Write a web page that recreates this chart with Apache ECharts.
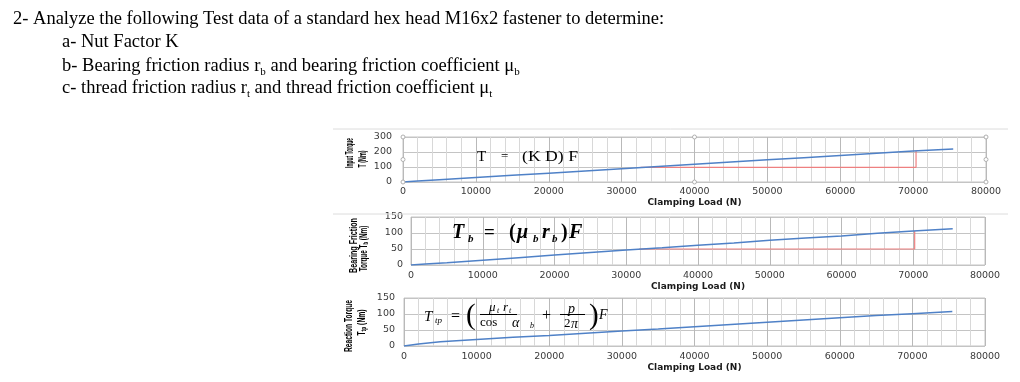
<!DOCTYPE html>
<html><head><meta charset="utf-8">
<script src="https://cdn.jsdelivr.net/npm/echarts@6/dist/echarts.min.js"></script>
<style>html,body{margin:0;padding:0;background:#fff}#c{width:1020px;height:382px}</style>
</head><body><div id="c"></div>
<script>
// ---- data ----
const loads = [0,2000,5000,10000,15000,20000,25000,30000,35000,40000,45000,50000,55000,60000,65000,70000,75500];
const inputTorque   = [0,6,15,30,45,59,74,89,104,119,133,148,162,177,191,206,220];
const bearingTorque = [0,3,7,15,23,31,39,47,54,62,69,77,84,91,99,106,113];
const reactionTorque= [0,6,13,20,27,33,40,47,53,60,67,74,81,88,95,101,108];
const redInput   = [[32600,98],[70400,98],[70400,206]];
const redBearing = [[31800,50],[70200,50],[70200,106]];
const xTicks = {min:0, max:80000, interval:10000};
const yTicks1 = {min:0, max:300, interval:100};
const yTicks2 = {min:0, max:150, interval:50};
const yTicks3 = {min:0, max:150, interval:50};
const xName = 'Clamping Load (N)';

const pair = (xs, ys) => xs.map((x,i)=>[x, ys[i]]);

const chart = echarts.init(document.getElementById('c'), null, {renderer:'canvas'});
const mctx = document.createElement('canvas').getContext('2d');
function measure(text, font){ mctx.font = font; return mctx.measureText(text).width; }

const SERIF = '"Liberation Serif","Times New Roman",serif';
const NARROW = '"Liberation Sans Narrow","Liberation Sans",Arial,sans-serif';
const SANS = '"DejaVu Sans",Verdana,sans-serif';

// title lines
function tline(text, x, y){
  return {type:'text', x, y, z:50, style:{text, fill:'#000', align:'left', verticalAlign:'middle',
    fontFamily:SERIF, fontSize:18.5, lineHeight:22,
    rich:{n:{fontFamily:SERIF, fontSize:18.5, lineHeight:22, fill:'#000'},
          s:{fontFamily:SERIF, fontSize:11, lineHeight:10, verticalAlign:'bottom', fill:'#000'}}}};
}
// formula tokens
function tk(text, x, y, size, italic, extra){
  return Object.assign({type:'text', x, y, z:50, style:{text, fill:'#000', align:'left', verticalAlign:'middle',
    fontFamily:SERIF, fontSize:size, fontStyle: italic?'italic':'normal', fontWeight:(extra&&extra.bold)?'bold':'normal'}}, extra&&extra.el||{});
}
function bar(x1,x2,y){ return {type:'line', z:50, shape:{x1,y1:y,x2,y2:y}, style:{stroke:'#000', lineWidth:1}}; }
// rotated axis names
function vname(text, plain, cx, cy, len, fs){
  const fnt = 'bold ' + fs + 'px ' + NARROW;
  const w = measure(plain, fnt);
  return {type:'text', x:cx, y:cy, rotation:Math.PI/2, scaleX: len/w, z:50,
    style:{text, fill:'#000', align:'center', verticalAlign:'middle', fontFamily:NARROW, fontSize:fs, fontWeight:'bold',
      rich:{n:{fontFamily:NARROW, fontSize:fs, fontWeight:'bold', fill:'#000', lineHeight:fs+1},
            s:{fontFamily:NARROW, fontSize:Math.round(fs*0.7), fontWeight:'bold', fill:'#000', lineHeight:Math.round(fs*0.7), verticalAlign:'bottom'}}}};
}
function handle(cx, cy){ return {type:'circle', z:100, shape:{cx, cy, r:2}, style:{fill:'#fff', stroke:'#b0b0b0', lineWidth:1}}; }

const fitW = (text, font, target) => target / measure(text, font);

const graphics = [
  tline('{n|2- Analyze the following Test data of a standard hex head M16x2 fastener to determine:}', 13, 19.5),
  tline('{n|a- Nut Factor K}', 62, 42.5),
  tline('{n|b- Bearing friction radius r}{s|b}{n| and bearing friction coefficient μ}{s|b}', 62, 66.5),
  tline('{n|c- thread friction radius r}{s|t}{n| and thread friction coefficient μ}{s|t}', 62, 88.5),
  // chart frames
  {type:'line', z:1, shape:{x1:333,y1:129,x2:1008,y2:129}, style:{stroke:'#dcdcdc', lineWidth:1}},
  {type:'line', z:1, shape:{x1:333,y1:214,x2:1008,y2:214}, style:{stroke:'#dcdcdc', lineWidth:1}},
  // selection handles of plot 1
  handle(403,137), handle(694.5,137), handle(986,137), handle(403,159.5), handle(986,159.5), handle(403,182), handle(694.5,182), handle(986,182),
  // axis names
  vname('{n|Input Torque}', 'Input Torque', 350, 153, 30, 11.5),
  vname('{n|T (Nm)}', 'T (Nm)', 363, 159, 17, 11.5),
  vname('{n|Bearing Friction}', 'Bearing Friction', 354.5, 245.5, 55, 10.5),
  vname('{n|Torque T}{s|b}{n| (Nm)}', 'Torque Tb (Nm)', 364, 248.5, 47, 10.5),
  vname('{n|Reaction Torque}', 'Reaction Torque', 349, 326, 52, 11),
  vname('{n|T}{s|tp}{n| (Nm)}', 'Ttp (Nm)', 361.5, 322.5, 28, 11),
  // formula 1
  tk('T', 477, 157, 15, false),
  tk('=', 501, 157, 13, false),
  tk('(K D) F', 522, 157, 15, false, {el:{scaleX: fitW('(K D) F', '15px '+SERIF, 56)}}),
  // formula 2
  tk('T', 452, 233, 20, true, {bold:true}),
  tk('b', 468, 239, 11, true, {bold:true}),
  tk('=', 484, 233, 19, false, {bold:true}),
  tk('(', 509, 233, 20, false, {bold:true}),
  tk('μ', 517, 233, 20, true, {bold:true}),
  tk('b', 533, 239, 11, true, {bold:true}),
  tk('r', 542, 233, 20, true, {bold:true}),
  tk('b', 552, 239, 11, true, {bold:true}),
  tk(')', 561, 233, 20, false, {bold:true}),
  tk('F', 569, 233, 20, true, {bold:true}),
  // formula 3
  tk('T', 424, 317, 15, true),
  tk('tp', 435, 321, 9, true),
  tk('=', 451, 317, 16, false),
  tk('(', 466, 316, 29, false),
  tk('μ', 489, 308, 13, true),
  tk('t', 497, 311, 8, true),
  tk('r', 503, 308, 13, true),
  tk('t', 509, 311, 8, true),
  bar(480, 517, 314.5),
  tk('cos', 480, 323, 13, false),
  tk('α', 512, 323, 14, true),
  tk('b', 530, 326, 8, true),
  tk('+', 542, 316, 16, false),
  tk('p', 568, 309, 14, true),
  bar(560, 585, 314.5),
  tk('2', 564, 324, 13, false),
  tk('π', 571, 324, 14, true),
  tk(')', 589, 316, 29, false),
  tk('F', 599, 315, 14, true)
];

const grids = [
  {left:403, top:137, width:583, height:45},
  {left:411, top:217, width:574, height:48},
  {left:404, top:298, width:581, height:48}
].map(g => Object.assign({show:true, borderColor:'#c4c4c4', borderWidth:1, backgroundColor:'transparent'}, g));

function xAxisCfg(gi, margin, nameGap){
  return Object.assign({type:'value', gridIndex:gi, name:xName, nameLocation:'middle', nameGap,
    nameTextStyle:{fontFamily:SANS, fontSize:9, fontWeight:'bold', color:'#1a1a1a'},
    axisLine:{show:false}, axisTick:{show:false},
    axisLabel:{margin, fontFamily:SANS, fontSize:9.5, color:'#3a3a3a', interval:0, showMinLabel:true, showMaxLabel:true,
      formatter: v => String(v)},
    splitLine:{show:true, lineStyle:{color:'#b9b9b9', width:1}},
    minorTick:{show:false, splitNumber:5},
    minorSplitLine:{show:true, lineStyle:{color:'#d8d8d8', width:1}}}, xTicks);
}
function yAxisCfg(gi, ticks, margin){
  return Object.assign({type:'value', gridIndex:gi,
    axisLine:{show:false}, axisTick:{show:false},
    axisLabel:{margin, fontFamily:SANS, fontSize:9.5, color:'#3a3a3a', showMinLabel:true, showMaxLabel:true,
      formatter: v => String(v)},
    splitLine:{show:true, lineStyle:{color:'#c4c4c4', width:1}}}, ticks);
}
const blue = '#4f81c7', red = '#ee8080';
function lineSeries(gi, data, color, w, z){
  return {type:'line', xAxisIndex:gi, yAxisIndex:gi, data, showSymbol:false, symbol:'none', smooth:false,
    lineStyle:{color, width:w}, itemStyle:{color}, z, silent:true, animation:false};
}

chart.setOption({
  animation:false,
  backgroundColor:'#fff',
  grid: grids,
  xAxis:[xAxisCfg(0,5,16), xAxisCfg(1,6,15.5), xAxisCfg(2,6,16)],
  yAxis:[yAxisCfg(0,yTicks1,11), yAxisCfg(1,yTicks2,8), yAxisCfg(2,yTicks3,9)],
  series:[
    lineSeries(0, redInput, red, 1.2, 2),
    lineSeries(0, pair(loads, inputTorque), blue, 1.5, 3),
    lineSeries(1, redBearing, red, 1.2, 2),
    lineSeries(1, pair(loads, bearingTorque), blue, 1.5, 3),
    lineSeries(2, pair(loads, reactionTorque), blue, 1.5, 3)
  ],
  graphic: graphics
});
</script></body></html>
